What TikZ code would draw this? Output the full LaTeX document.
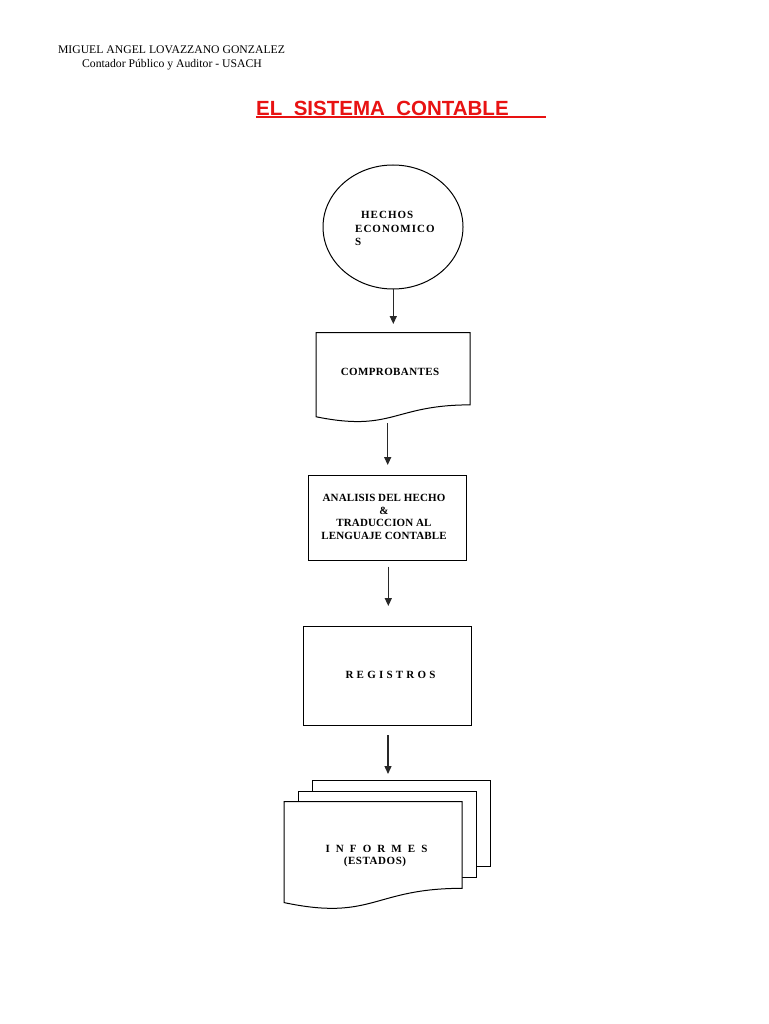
\documentclass[tikz,border=0pt]{standalone}
\usepackage{fontspec}
\setmainfont{Liberation Serif}
\newfontfamily\titlefont{Liberation Sans}
\newfontfamily\boxfont[LetterSpace=1]{Liberation Serif}
\newfontfamily\hechofont[LetterSpace=9]{Liberation Serif}
\newfontfamily\compfont[LetterSpace=3.5]{Liberation Serif}
\newfontfamily\estfont[LetterSpace=5]{Liberation Serif}
\usetikzlibrary{shapes.geometric,arrows.meta}
\definecolor{titlered}{RGB}{232,18,18}
\definecolor{arrowgray}{RGB}{40,40,40}
\newcommand\mydocpath[4]{% x0, y0, x1, h
  \draw[shapeline,fill=white] (#1,#2) -- (#3,#2) -- (#3,{#2+0.802*#4})
    .. controls ({(#1+#3)/2},{#2+0.802*#4}) and ({(#1+#3)/2},{#2+1.1075*#4}) .. (#1,{#2+0.934*#4}) -- cycle;}
\newcommand\myspaced[2]{{\spaceskip=#1\relax #2}}
\tikzset{
  shapeline/.style={draw=black,line width=1pt},
  boxtext/.style={font=\boxfont\bfseries\fontsize{11}{12.5}\selectfont,align=center,inner sep=0pt},
  hdr/.style={font=\fontsize{11.7}{13}\selectfont,inner sep=0pt},
  arr/.style={draw=arrowgray,line width=1.3pt,-{Triangle[length=8pt,width=7pt]}},
}
\begin{document}
\begin{tikzpicture}[x=1pt,y=-1pt]
\useasboundingbox (0,0) rectangle (768,1024);
\fill[white] (0,0) rectangle (768,1024);

% header
\node[hdr,anchor=base] (h1) at (171.5,53.2) {MIGUEL ANGEL LOVAZZANO GONZALEZ};
\node[hdr,anchor=base] (h2) at (172,67.2) {Contador Público y Auditor - USACH};

% title
\node[anchor=base west,inner sep=0pt,text=titlered,font=\titlefont\bfseries\fontsize{20.5}{24}\selectfont] (title) at (256,115.3) {EL\ \ SISTEMA\ \ CONTABLE};
\draw[titlered,line width=1.3pt] (256,117) -- (546,117);

% ellipse
\node[shapeline,ellipse,minimum width=140pt,minimum height=124pt,inner sep=0pt] (hechos) at (393,227) {};
\node[anchor=north west,align=left,inner sep=0pt,font=\hechofont\bfseries\fontsize{11}{13.5}\selectfont] (hechostxt) at (355,211.5) {\hspace{6pt}HECHOS\\ECONOMICO\\S};

% comprobantes
\node[minimum width=154pt,minimum height=90pt,inner sep=0pt] (comp) at (393,377.7) {};
\mydocpath{316}{332.7}{470}{90}
\node[boxtext,font=\compfont\bfseries\fontsize{11}{12.5}\selectfont] (comptxt) at (390,371.5) {COMPROBANTES};

% analisis
\node[shapeline,rectangle,minimum width=158.4pt,minimum height=85.7pt,inner sep=0pt] (analisis) at (387.5,517.85) {};
\node[boxtext] (analisistxt) at (384,517) {ANALISIS DEL HECHO\\\&\\TRADUCCION AL\\LENGUAJE CONTABLE};

% registros
\node[shapeline,rectangle,minimum width=167.7pt,minimum height=98.3pt,inner sep=0pt] (regist) at (387.2,675.9) {};
\node[boxtext] (registtxt) at (390.5,675) {\myspaced{3.2pt}{R E G I S T R O S}};

% informes (stacked documents)
\node[shapeline,fill=white,rectangle,minimum width=177.3pt,minimum height=85.3pt,inner sep=0pt] (infback) at (401.35,823.35) {};
\node[shapeline,fill=white,rectangle,minimum width=178pt,minimum height=85.3pt,inner sep=0pt] (infmid) at (387,834.35) {};
\node[minimum width=178pt,minimum height=108pt,inner sep=0pt] (inf) at (373,855.7) {};
\mydocpath{284}{801.7}{462}{108}
\node[boxtext] (inftxt1) at (376.5,849.3) {\myspaced{6.1pt}{I N F O R M E S}};
\node[boxtext,font=\estfont\bfseries\fontsize{11}{12.5}\selectfont] (inftxt2) at (375,861.5) {(ESTADOS)};

% connectors
\coordinate (s1) at (393.3,289);   \coordinate (e1) at (393.3,324);
\coordinate (s2) at (387.7,423.3); \coordinate (e2) at (387.7,465);
\coordinate (s3) at (388.3,566.7); \coordinate (e3) at (388.3,606);
\coordinate (s4) at (388,735);     \coordinate (e4) at (388,774);
\draw[arr] (s1) -- (e1);
\draw[arr] (s2) -- (e2);
\draw[arr] (s3) -- (e3);
\draw[arr] (s4) -- (e4);
\end{tikzpicture}
\end{document}
